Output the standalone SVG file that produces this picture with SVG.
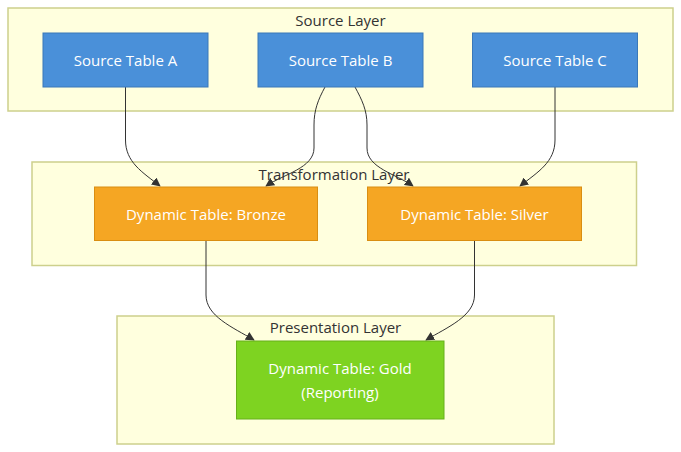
<svg xmlns="http://www.w3.org/2000/svg" width="681" height="452" viewBox="0 0 681 452">
<style>
  .cluster rect { fill: #ffffde; stroke: #cdd08c; stroke-width: 1.5; }
  .cluster text { font-family: "Open Sans", "Liberation Sans", sans-serif; font-size: 15px; fill: #333; text-anchor: middle; }
  .node text { font-family: "Open Sans", "Liberation Sans", sans-serif; font-size: 15px; fill: #ffffff; text-anchor: middle; }
  .src rect { fill: #4a90d9; stroke: #3a78b8; stroke-width: 1; }
  .trf rect { fill: #f5a623; stroke: #d98e12; stroke-width: 1; }
  .pres rect { fill: #7ed321; stroke: #67b01a; stroke-width: 1; }
  .edges path { fill: none; stroke: #333; stroke-width: 1; marker-end: url(#arrow); }
</style>
<defs>
  <marker id="arrow" viewBox="0 0 10 10" refX="9" refY="5" markerWidth="9" markerHeight="9" markerUnits="userSpaceOnUse" orient="auto">
    <path d="M0,0 L10,5 L0,10 z" fill="#333"/>
  </marker>
</defs>
<rect width="681" height="452" fill="#ffffff"/>

<g id="cluster-source" class="cluster">
  <rect x="8" y="8" width="665" height="103"/>
  <text x="340.5" y="26">Source Layer</text>
</g>
<g id="cluster-transformation" class="cluster">
  <rect x="32" y="162" width="604.5" height="103.5"/>
  <text x="334" y="180">Transformation Layer</text>
</g>
<g id="cluster-presentation" class="cluster">
  <rect x="117" y="316" width="437" height="128"/>
  <text x="335.5" y="333">Presentation Layer</text>
</g>

<g id="edges" class="edges">
  <path d="M125.5,87 L125.5,140 C125.5,162 142,172 160,186"/>
  <path d="M325,87 C318,100 314,110 314,125 L314,148 C314,168 284,174 266,186"/>
  <path d="M355,87 C362,100 367,110 367,125 L367,148 C367,168 396,174 413,186"/>
  <path d="M555,87 L555,140 C555,162 538,172 520,186"/>
  <path d="M206,241 L206,295 C206,316 232,327 254,340"/>
  <path d="M474.5,241 L474.5,295 C474.5,316 448,327 426,340"/>
</g>

<g id="node-source-a" class="node src">
  <rect x="43" y="33" width="165" height="54"/>
  <text x="125.5" y="65.5">Source Table A</text>
</g>
<g id="node-source-b" class="node src">
  <rect x="258" y="33" width="165" height="54"/>
  <text x="340.5" y="65.5">Source Table B</text>
</g>
<g id="node-source-c" class="node src">
  <rect x="472.5" y="33" width="165" height="54"/>
  <text x="555" y="65.5">Source Table C</text>
</g>
<g id="node-bronze" class="node trf">
  <rect x="94.5" y="187" width="223" height="53.5"/>
  <text x="206" y="219.5">Dynamic Table: Bronze</text>
</g>
<g id="node-silver" class="node trf">
  <rect x="367.5" y="187" width="214" height="53.5"/>
  <text x="474.5" y="219.5">Dynamic Table: Silver</text>
</g>
<g id="node-gold" class="node pres">
  <rect x="236.5" y="341" width="207.5" height="78"/>
  <text x="340" y="373.5">Dynamic Table: Gold</text>
  <text x="340" y="397.5">(Reporting)</text>
</g>
</svg>
